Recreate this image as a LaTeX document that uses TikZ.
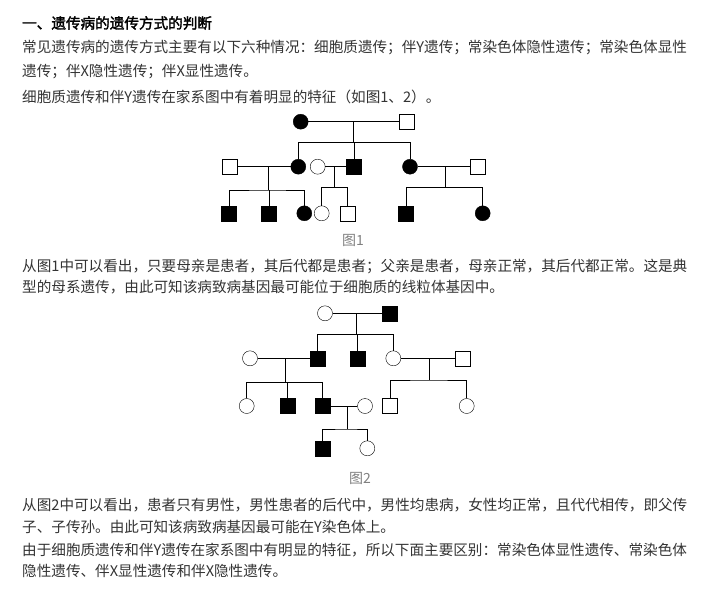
\documentclass[tikz,border=0pt]{standalone}
\usepackage{fontspec}
\newfontfamily\cjk{Noto Sans CJK SC}
\newfontfamily\cjkb[FakeBold=2]{Noto Sans CJK SC}
\usetikzlibrary{positioning}
\definecolor{txtgray}{HTML}{333333}
\tikzset{
  male/.style={draw, rectangle, minimum size=15pt, inner sep=0pt, fill=white},
  female/.style={draw, circle, minimum size=15pt, inner sep=0pt, fill=white},
  ill/.style={fill=black},
  line/.style={line width=1pt},
  para/.style={anchor=west, inner sep=0pt, text=txtgray, font=\cjk\fontsize{14.6}{16}\selectfont},
  caption/.style={inner sep=0pt, text=gray, font=\cjk\fontsize{14}{16}\selectfont}
}
\begin{document}
\begin{tikzpicture}[x=1pt, y=-1pt]
	\useasboundingbox (0,0) rectangle (706,594);
	
	% text above
	\node [para, font=\cjkb\fontsize{14.6}{16}\selectfont, text=black] (t0) at (22,23) {一、遗传病的遗传方式的判断};
	\node [para] (t1) at (22,47) {常见遗传病的遗传方式主要有以下六种情况：细胞质遗传；伴Y遗传；常染色体隐性遗传；常染色体显性};
	\node [para] (t2) at (22,72) {遗传；伴X隐性遗传；伴X显性遗传。};
	\node [para] (t3) at (22,97) {细胞质遗传和伴Y遗传在家系图中有着明显的特征（如图1、2）。};
	
	% figure 1
	\node [female, ill] (a1) at (300.7,121.7) {};
	\node [male] (a2) at (406.7,121.7) {};
	\node [male] (b1) at (230,166.7) {};
	\node [female, ill] (b2) at (298.3,166.7) {};
	\node [female] (b3) at (317.7,166.7) {};
	\node [male, ill] (b4) at (354,166.7) {};
	\node [female, ill] (b5) at (410,166.7) {};
	\node [male] (b6) at (477.7,166.7) {};
	\node [male, ill] (c1) at (229,213.3) {};
	\node [male, ill] (c2) at (269,213.3) {};
	\node [female, ill] (c3) at (304.3,213.3) {};
	\node [female] (c4) at (321.7,213.3) {};
	\node [male] (c5) at (347.3,213.3) {};
	\node [male, ill] (c6) at (406,213.3) {};
	\node [female, ill] (c7) at (482.7,213.3) {};
	\node [caption] (cap1) at (353,240) {图1};
	
	\begin{scope}[line]
	\draw (a1) -- (a2);
	\draw (353.7,121.7) -- (353.7,142.3) coordinate (sa);
	\draw (b2.north) |- (sa) -| (b5.north);
	\draw (b4.north) -- (b4 |- sa);
	\draw (b1) -- (b2);
	\draw (268.3,166.7) -- (268.3,190) coordinate (sb);
	\draw (c1.north) |- (sb) -| (c3.north);
	\draw (c2.north) -- (c2 |- sb);
	\draw (b3) -- (b4);
	\draw (334,166.7) -- (334,187.7) coordinate (sc);
	\draw (c4.north) |- (sc) -| (c5.north);
	\draw (b5) -- (b6);
	\draw (445.7,166.7) -- (445.7,187.7) coordinate (sd);
	\draw (c6.north) |- (sd) -| (c7.north);
	\end{scope}
	
	% text between
	\node [para] (t4) at (22,266) {从图1中可以看出，只要母亲是患者，其后代都是患者；父亲是患者，母亲正常，其后代都正常。这是典};
	\node [para] (t5) at (22,287) {型的母系遗传，由此可知该病致病基因最可能位于细胞质的线粒体基因中。};
	
	% figure 2
	\node [female] (p1) at (325,313.3) {};
	\node [male, ill] (p2) at (389.3,313.3) {};
	\node [female] (q1) at (250,358.3) {};
	\node [male, ill] (q2) at (317.7,358.3) {};
	\node [male, ill] (q3) at (357.7,358.3) {};
	\node [female] (q4) at (393.3,358.3) {};
	\node [male] (q5) at (462.3,358.3) {};
	\node [female] (r1) at (246.7,406) {};
	\node [male, ill] (r2) at (287.7,406) {};
	\node [male, ill] (r3) at (322.7,406) {};
	\node [female] (r4) at (365,406) {};
	\node [male] (r5) at (390,406) {};
	\node [female] (r6) at (466.7,406) {};
	\node [male, ill] (s1) at (322.7,448.3) {};
	\node [female] (s2) at (367.3,448.3) {};
	\node [caption] (cap2) at (360,478) {图2};
	
	\begin{scope}[line]
	\draw (p1) -- (p2);
	\draw (356.7,313.3) -- (356.7,334.3) coordinate (pa);
	\draw (q2.north) |- (pa) -| (q4.north);
	\draw (q3.north) -- (q3 |- pa);
	\draw (q1) -- (q2);
	\draw (285,358.3) -- (285,382.3) coordinate (pb);
	\draw (r1.north) |- (pb) -| (r3.north);
	\draw (r2.north) -- (r2 |- pb);
	\draw (q4) -- (q5);
	\draw (429.3,358.3) -- (429.3,380) coordinate (pc);
	\draw (r5.north) |- (pc) -| (r6.north);
	\draw (r3) -- (r4);
	\draw (347.3,406) -- (347.3,429) coordinate (pd);
	\draw (s1.north) |- (pd) -| (s2.north);
	\end{scope}
	
	% text below
	\node [para] (t6) at (22,505) {从图2中可以看出，患者只有男性，男性患者的后代中，男性均患病，女性均正常，且代代相传，即父传};
	\node [para] (t7) at (22,527) {子、子传孙。由此可知该病致病基因最可能在Y染色体上。};
	\node [para] (t8) at (22,550) {由于细胞质遗传和伴Y遗传在家系图中有明显的特征，所以下面主要区别：常染色体显性遗传、常染色体};
	\node [para] (t9) at (22,571) {隐性遗传、伴X显性遗传和伴X隐性遗传。};
\end{tikzpicture}
\end{document}
